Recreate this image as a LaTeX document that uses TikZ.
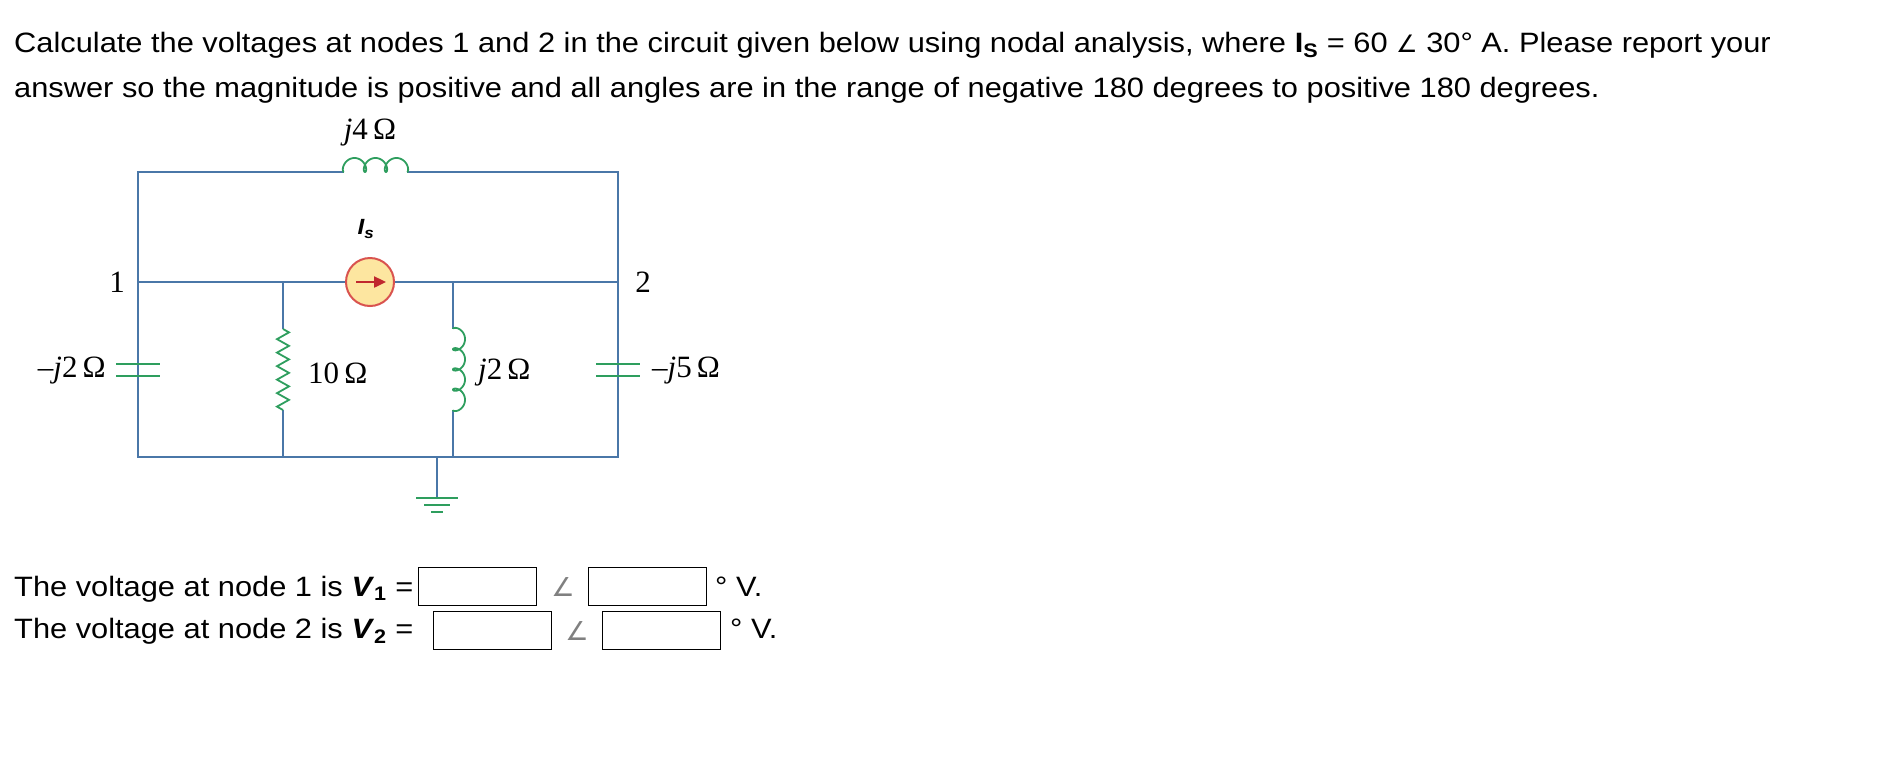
\documentclass[tikz,border=0pt]{standalone}
\usepackage{fontspec}
\setmainfont[FakeStretch=1.1]{Liberation Sans}
\newfontfamily\ser{Liberation Serif}
\newfontfamily\dv{DejaVu Sans}
\usetikzlibrary{decorations.pathmorphing,arrows.meta,shapes.geometric}
\definecolor{wire}{HTML}{4A77A8}
\definecolor{comp}{HTML}{2E9E5E}
\definecolor{srcfill}{HTML}{FDE6A0}
\definecolor{srcline}{HTML}{D9534F}
\definecolor{arr}{HTML}{C0282E}
\begin{document}
\begin{tikzpicture}[x=1pt,y=-1pt,
  w/.style={draw=wire,line width=1.6pt},
  cp/.style={draw=comp,line width=2.2pt},
  lab/.style={font=\ser\fontsize{31}{34}\selectfont,inner sep=0pt},
  txt/.style={font=\fontsize{28}{32}\selectfont,anchor=base west,inner sep=0pt},
  ansbox/.style={draw=black,line width=1.4pt,minimum width=118pt,minimum height=38pt,inner sep=0pt}]
\useasboundingbox (0,0) rectangle (1891,780);
% text
\node[txt] (t1) at (14,52) {Calculate the voltages at nodes 1 and 2 in the circuit given below using nodal analysis, where \textbf{I\textsubscript{S}} = 60 {\dv\fontsize{24}{28}\selectfont∠} 30° A. Please report your};
\node[txt] (t2) at (14,97) {answer so the magnitude is positive and all angles are in the range of negative 180 degrees to positive 180 degrees.};
% coordinates
\coordinate (tl) at (138,172); \coordinate (tr) at (618,172);
\coordinate (ml) at (138,282); \coordinate (mr) at (618,282);
\coordinate (bl) at (138,457); \coordinate (br) at (618,457);
\coordinate (lA) at (344,172); \coordinate (lB) at (407,172);
\coordinate (rT) at (283,282); \coordinate (rB) at (283,457);
\coordinate (r1) at (283,329); \coordinate (r2) at (283,410);
\coordinate (iT) at (453,282); \coordinate (iB) at (453,457);
\coordinate (i1) at (453,329); \coordinate (i2) at (453,410);
\coordinate (g) at (437,457); \coordinate (g1) at (437,498);
\node[circle,draw=srcline,line width=2pt,fill=srcfill,minimum size=48pt,inner sep=0pt] (src) at (370,282) {};
% wires
\draw[w] (lA) -- (tl) -- (bl) -- (br) -- (tr) -- (lB);
\draw[w] (ml) -- (src.west) (src.east) -- (mr);
\draw[w] (rT) -- (r1) (r2) -- (rB);
\draw[w] (iT) -- (i1) (i2) -- (iB);
\draw[w] (g) -- (g1);
% caps
\draw[w] (138,364) -- (138,376);
\draw[cp] (116,364) -- (160,364) (116,376) -- (160,376);
\draw[w] (618,364) -- (618,376);
\draw[cp] (596,364) -- (640,364) (596,376) -- (640,376);
% ground
\draw[cp] (416,498) -- (458,498) (424,505) -- (450,505) (431,512) -- (443,512);
% resistor
\draw[comp,line width=1.8pt,decorate,decoration={zigzag,segment length=13.5pt,amplitude=6pt}] (r1) -- (r2);
% inductors
\draw[comp,line width=1.8pt] plot[domain=0:8*pi,samples=200,variable=\t] ({453+6*(1-cos(\t r))},{329+3.22*(\t-1.6*sin(\t r))});
\draw[comp,line width=1.8pt] plot[domain=0:6*pi,samples=160,variable=\t] ({344+3.34*(\t-1.6*sin(\t r))},{172-7*(1-cos(\t r))});
% arrow
\draw[arr,line width=2.4pt,-{Triangle[length=12pt,width=11pt]}] (356,282) -- (386,282);
% labels
\node[lab] (lj4) at (370,133) {\itshape j\upshape 4\,Ω};
\node[font=\bfseries\itshape\fontsize{22}{24}\selectfont] (lis) at (366,229) {I\textsubscript{s}};
\node[lab] (l1) at (117,282) {1};
\node[lab] (l2) at (643,282) {2};
\node[lab,anchor=east] (lmj2) at (106,371) {–\itshape j\upshape 2\,Ω};
\node[lab,anchor=west] (l10) at (308,373) {10\,Ω};
\node[lab,anchor=west] (lj2) at (478,373) {\itshape j\upshape 2\,Ω};
\node[lab,anchor=west] (lmj5) at (652,371) {–\itshape j\upshape 5\,Ω};
% answers
\node[txt] (a1) at (14,596) {The voltage at node 1 is \textbf{\textit{V}\textsubscript{1}} =};
\node[ansbox,anchor=north west] (b11) at (418,567) {};
\node[font=\dv\fontsize{26}{28}\selectfont,text=gray] (ang1) at (563,587) {∠};
\node[ansbox,anchor=north west] (b12) at (588,567) {};
\node[txt] (d1) at (715,596) {° V.};
\node[txt] (a2) at (14,638) {The voltage at node 2 is \textbf{\textit{V}\textsubscript{2}} =};
\node[ansbox,anchor=north west] (b21) at (433,611) {};
\node[font=\dv\fontsize{26}{28}\selectfont,text=gray] (ang2) at (577,631) {∠};
\node[ansbox,anchor=north west] (b22) at (602,611) {};
\node[txt] (d2) at (730,638) {° V.};
\end{tikzpicture}
\end{document}
